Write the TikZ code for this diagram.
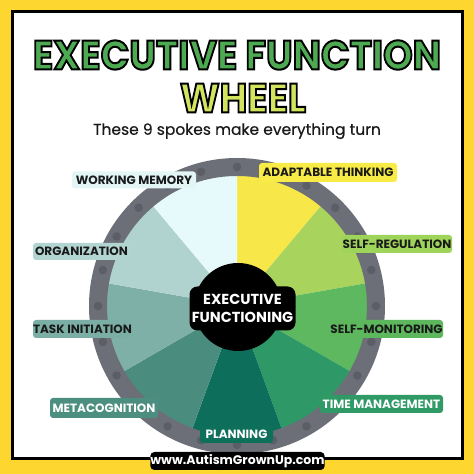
\documentclass[tikz,border=0pt]{standalone}
\usepackage{fontspec}
\usepackage{graphicx}
\setmainfont{Poppins}
\newfontfamily\submed{Poppins}[FakeBold=0.5]
\newcommand\outlinetext[2]{\special{pdf:literal direct 2 Tr #1 w 0 0 0 RG}#2\special{pdf:literal direct 0 Tr}}
\definecolor{bgyellow}{HTML}{FDD62F}
\definecolor{titlegreen}{HTML}{4DAA52}
\definecolor{wheellime}{HTML}{D2E45E}
\definecolor{rim}{HTML}{6C6F78}
\definecolor{bolt}{HTML}{5B5E67}
\definecolor{secA}{HTML}{F8E748}
\definecolor{secB}{HTML}{A8D45E}
\definecolor{secC}{HTML}{5DB85F}
\definecolor{secD}{HTML}{2E9966}
\definecolor{secE}{HTML}{0D6E5B}
\definecolor{secF}{HTML}{4A8D7F}
\definecolor{secG}{HTML}{7EB0A8}
\definecolor{secH}{HTML}{B0D3CF}
\definecolor{secI}{HTML}{E6FAFB}
\definecolor{labA}{HTML}{F9EB45}
\definecolor{labB}{HTML}{9FD45B}
\definecolor{labC}{HTML}{5CB75D}
\definecolor{labD}{HTML}{2F9A65}
\definecolor{labE}{HTML}{0E6F5B}
\definecolor{labF}{HTML}{4C8E7F}
\definecolor{labG}{HTML}{7BAFA6}
\definecolor{labH}{HTML}{B3D5D1}
\definecolor{labI}{HTML}{E2F6F6}
\definecolor{ink}{HTML}{1A1A1A}
\begin{document}
\begin{tikzpicture}[x=1pt,y=1pt,
  titlefont/.style={font=\fontsize{41}{41}\selectfont\bfseries, inner sep=0pt},
  lbl/.style={rounded corners=3pt, inner sep=0pt,
    font=\fontsize{12}{12}\selectfont\bfseries},
  centerbox/.style={fill=black, rounded corners=8pt, inner sep=0pt, text=white,
    align=center, font=\fontsize{14.5}{18}\selectfont\bfseries}]
\useasboundingbox (0,0) rectangle (474,474);
\fill[bgyellow] (0,0) rectangle (474,474);
\draw[line width=3.5pt, fill=white] (12.5,15.7) rectangle (462.5,462.3);
% title
\node[titlefont, text=titlegreen] (title1) at (237,419) {\scalebox{0.92}[1]{\outlinetext{2}{EXECUTIVE FUNCTION}}};
\node[titlefont, text=wheellime] (title2) at (243,376) {\scalebox{0.92}[1]{\outlinetext{2}{WHEEL}}};
\node[font=\fontsize{15.5}{15.5}\submed, text=ink] (subtitle) at (237,343) {These 9 spokes make everything turn};
% wheel
\coordinate (C) at (237,168);
\foreach \s/\c in {90/secA,50/secB,10/secC,-30/secD,-70/secE,-110/secF,-150/secG,-190/secH,-230/secI}
  \fill[\c] (C) -- ++(\s:132) arc[start angle=\s, delta angle=-40, radius=132] -- cycle;
\fill[rim, even odd rule] (C) circle[radius=148] (C) circle[radius=130];
\foreach \a in {0,15,...,345}
  \fill[bolt] ([shift={(\a:139)}]C) circle[radius=4.3];
% center
\fill[black] (238,167) circle[radius=44];
\node[centerbox, minimum width=106, minimum height=44] (core) at (242.5,165.5) {EXECUTIVE\\FUNCTIONING};
% labels
\node[lbl, fill=labI, text=ink, minimum width=124, minimum height=17] (wm) at (134,294) {WORKING MEMORY};
\node[lbl, fill=labA, text=ink, minimum width=138, minimum height=19] (at) at (328,301.5) {ADAPTABLE THINKING};
\node[lbl, fill=labH, text=ink, minimum width=97, minimum height=17] (org) at (81.5,222.5) {ORGANIZATION};
\node[lbl, fill=labB, text=ink, minimum width=110, minimum height=18] (sr) at (397,230) {SELF-REGULATION};
\node[lbl, fill=labG, text=ink, minimum width=99, minimum height=18] (ti) at (82.5,145) {TASK INITIATION};
\node[lbl, fill=labC, text=ink, minimum width=113, minimum height=18] (sm) at (386.5,145) {SELF-MONITORING};
\node[lbl, fill=labF, text=white, minimum width=108, minimum height=20] (mc) at (104,66) {METACOGNITION};
\node[lbl, fill=labD, text=white, minimum width=123, minimum height=18] (tm) at (381.5,70) {TIME MANAGEMENT};
\node[lbl, fill=labE, text=white, minimum width=73, minimum height=18] (pl) at (236.5,40) {PLANNING};
% url
\node[fill=black, rounded corners=4pt, inner sep=0pt, text=white, minimum width=169, minimum height=18,
  font=\fontsize{12.5}{12.5}\selectfont\bfseries] (url) at (237.5,13) {www.AutismGrownUp.com};
\end{tikzpicture}
\end{document}
